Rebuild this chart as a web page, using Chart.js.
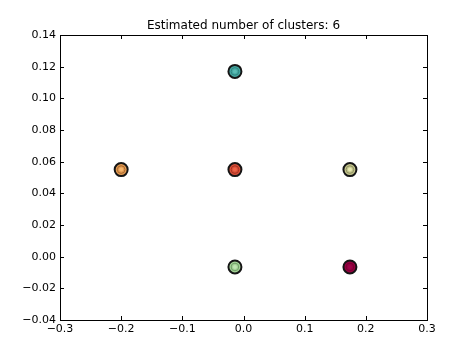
<!DOCTYPE html>
<html>
<head>
<meta charset="utf-8">
<script src="https://cdn.jsdelivr.net/npm/chart.js@4"></script>
<style>
  html, body { margin: 0; padding: 0; background: #fff; }
  #wrap { width: 474px; height: 355px; }
</style>
</head>
<body>
<div id="wrap"><canvas id="c"></canvas></div>
<script>
/* ===== Datos ===== */
const titleText = "Estimated number of clusters: 6";
const clusterX = [-0.2, -0.014, -0.014, 0.174, -0.014, 0.174];
const clusterY = [0.055, 0.055, 0.117, 0.055, -0.0065, -0.0065];
const clusterFill = ["#e29a52", "#d94f3a", "#45a8a2", "#c3c48c", "#a3d396", "#960140"];
const clusterRing = ["#a8692e", "#a8321f", "#2f8580", "#8f9163", "#6f9c66", "#7a0134"];
const clusterCore = ["#f6b66c", "#ee6448", "#5cbcb4", "#e8ebb0", "#bfe5b2", "#a1034a"];
const xTicks = [-0.3, -0.2, -0.1, 0.0, 0.1, 0.2, 0.3];
const yTicks = [-0.04, -0.02, 0.0, 0.02, 0.04, 0.06, 0.08, 0.10, 0.12, 0.14];

/* ===== Helpers ===== */
const fmt = (v, d) => {
  if (Math.abs(v) < 1e-9) v = 0;
  return v.toFixed(d).replace("-", "\u2212");
};

// marco y ticks hacia adentro (estilo matplotlib clasico)
const framePlugin = {
  id: "frame",
  afterDraw(chart) {
    const { ctx, chartArea: a, scales } = chart;
    ctx.save();
    ctx.strokeStyle = "#000";
    ctx.lineWidth = 1;
    ctx.strokeRect(a.left + 0.5, a.top + 0.5, a.right - a.left, a.bottom - a.top);
    ctx.beginPath();
    xTicks.forEach((v) => {
      const x = Math.round(scales.x.getPixelForValue(v)) + 0.5;
      ctx.moveTo(x, a.bottom); ctx.lineTo(x, a.bottom - 4);
      ctx.moveTo(x, a.top); ctx.lineTo(x, a.top + 4);
    });
    yTicks.forEach((v) => {
      const y = Math.round(scales.y.getPixelForValue(v)) + 0.5;
      ctx.moveTo(a.left, y); ctx.lineTo(a.left + 4, y);
      ctx.moveTo(a.right, y); ctx.lineTo(a.right - 4, y);
    });
    ctx.stroke();
    ctx.fillStyle = "#000";
    ctx.font = "12px 'DejaVu Sans'";
    ctx.textAlign = "center";
    ctx.textBaseline = "alphabetic";
    ctx.fillText(titleText, (a.left + a.right) / 2, a.top - 6);
    ctx.restore();
  },
};

/* ===== Datasets ===== */
// order mas bajo = se dibuja encima: borde (3), anillo (2), centro (1)
const datasets = [];
clusterX.forEach((x, i) => {
  const pt = [{ x, y: clusterY[i] }];
  datasets.push({
    data: pt,
    order: 3,
    pointRadius: 6.5,
    pointBorderWidth: 2,
    pointBackgroundColor: clusterFill[i],
    pointBorderColor: "#151515",
  });
  datasets.push({
    data: pt,
    order: 2,
    pointRadius: 3.8,
    pointBorderWidth: 1,
    pointBackgroundColor: clusterFill[i],
    pointBorderColor: clusterRing[i],
  });
  datasets.push({
    data: pt,
    order: 1,
    pointRadius: 2,
    pointBorderWidth: 0,
    pointBackgroundColor: clusterCore[i],
    pointBorderColor: clusterCore[i],
  });
});

new Chart(document.getElementById("c"), {
  type: "scatter",
  data: { datasets },
  options: {
    responsive: true,
    maintainAspectRatio: false,
    animation: false,
    layout: { padding: { top: 35, right: 47, left: 0, bottom: 0 } },
    plugins: { legend: { display: false }, tooltip: { enabled: false } },
    scales: {
      x: {
        type: "linear",
        min: -0.3,
        max: 0.3,
        afterFit: (s) => { s.height = 35; },
        afterBuildTicks: (s) => { s.ticks = xTicks.map((v) => ({ value: v })); },
        grid: { display: false, drawTicks: false },
        border: { display: false },
        ticks: {
          padding: 3,
          color: "#000",
          font: { family: "DejaVu Sans", size: 11 },
          callback: (v) => fmt(v, 1),
        },
      },
      y: {
        type: "linear",
        min: -0.04,
        max: 0.14,
        afterFit: (s) => { s.width = 60; },
        afterBuildTicks: (s) => { s.ticks = yTicks.map((v) => ({ value: v })); },
        grid: { display: false, drawTicks: false },
        border: { display: false },
        ticks: {
          padding: 4,
          color: "#000",
          font: { family: "DejaVu Sans", size: 11 },
          callback: (v) => fmt(v, 2),
        },
      },
    },
  },
  plugins: [framePlugin],
});
</script>
</body>
</html>
